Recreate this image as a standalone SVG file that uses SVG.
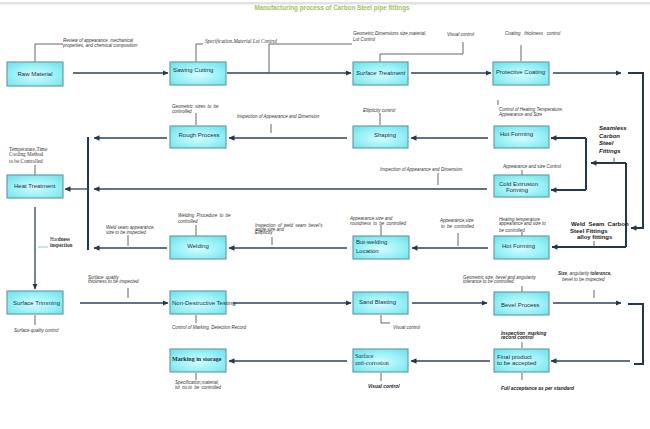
<svg xmlns="http://www.w3.org/2000/svg" width="650" height="429" viewBox="0 0 650 429">
<defs>
<radialGradient id="bf" cx="50%" cy="55%" r="65%">
<stop offset="0" stop-color="#d4fcfe"/>
<stop offset="0.6" stop-color="#98f1f6"/>
<stop offset="1" stop-color="#74e3ec"/>
</radialGradient>
<marker id="ah" markerWidth="6" markerHeight="6" refX="5.5" refY="3" orient="auto" markerUnits="userSpaceOnUse">
<path d="M0,0.3 L6,3 L0,5.7 z" fill="#22384e"/>
</marker>
<style>
.box{fill:url(#bf);stroke:#6b9ea7;stroke-width:1.2}
.nt{font-family:"Liberation Sans",Arial,sans-serif;font-size:6px;fill:#1c2f45}
.ns{font-family:"Liberation Serif","Times New Roman",serif;font-size:6px;fill:#1c2f45}
.lb{font-family:"Liberation Sans",Arial,sans-serif;font-size:4.5px;font-style:italic;fill:#333}
.lbs{font-family:"Liberation Serif","Times New Roman",serif;font-size:5.2px;fill:#333}
.bi{font-family:"Liberation Sans",Arial,sans-serif;font-size:4.8px;font-style:italic;font-weight:bold;fill:#222}
.big{font-family:"Liberation Sans",Arial,sans-serif;font-size:6px;font-weight:bold;fill:#222}
.cn{fill:none;stroke:#2e4358;stroke-width:1.3}
.ck{fill:none;stroke:#22384e;stroke-width:2}
.tk{fill:none;stroke:#555;stroke-width:0.9}
.ar{marker-end:url(#ah)}
</style>
</defs>
<rect x="0" y="0" width="650" height="429" fill="#fff"/>
<rect x="0" y="2" width="650" height="2.5" fill="#e2e2e2"/>
<text x="332" y="9.5" text-anchor="middle" font-family="Liberation Sans,Arial,sans-serif" font-size="6.3" font-weight="bold" fill="#9dc35e">Manufacturing process of Carbon Steel pipe fittings</text>

<g id="connectors">
<path class="cn ar" d="M73,73 H168"/>
<path class="cn ar" d="M227,73 H351"/>
<path class="cn ar" d="M411,73 H491"/>
<path class="cn ar" d="M553,73 H621"/>
<path class="ck ar" d="M628,73 H643 V228 H631"/>
<path class="ck" d="M626,163 V247"/>
<path class="ck ar" d="M626,163 H591"/>
<path class="ck ar" d="M626,247 H552"/>
<path class="ck" d="M586,138 V190"/>
<path class="ck ar" d="M586,138 H551"/>
<path class="ck ar" d="M586,190 H551"/>
<path class="cn ar" d="M488,138 H411"/>
<path class="cn ar" d="M347,138 H229"/>
<path class="cn ar" d="M167,138 H94"/>
<path class="ck" d="M88,137 V250"/>
<path class="cn ar" d="M88,189 H65"/>
<path class="cn ar" d="M487,189 H94"/>
<path class="cn ar" d="M488,248 H412"/>
<path class="cn ar" d="M347,248 H229"/>
<path class="cn ar" d="M167,248 H94"/>
<path class="cn ar" d="M35,207 V289"/>
<path class="cn ar" d="M80,303 H168"/>
<path class="cn ar" d="M233,303 H351"/>
<path class="cn ar" d="M412,303 H487"/>
<path class="cn ar" d="M553,303 H621"/>
<path class="ck" d="M628,304 H643 V364 H634"/>
<path class="cn ar" d="M630,361 H551"/>
<path class="cn ar" d="M490,361 H411"/>
<path class="cn ar" d="M347,361 H229"/>

<path class="tk" d="M35,62 V44 H63"/>
<path class="tk" d="M196,62 V44 H203"/>
<path class="tk" d="M269,73 V44 H352"/>
<path class="tk" d="M380,62 V54 H463 V42"/>
<path class="tk" d="M521,45 V61"/>
<path class="tk" d="M196,113 V125"/>
<path class="tk" d="M271,124 V133"/>
<path class="tk" d="M380,113 V125"/>
<path class="tk" d="M498,100 V105"/>
<path class="tk" d="M614,158 V164"/>
<path class="tk" d="M522,170 V175"/>
<path class="tk" d="M438,173 V185"/>
<path class="tk" d="M35,165 V175"/>
<path class="tk" d="M196,225 V236"/>
<path class="tk" d="M128,235 V246"/>
<path class="tk" d="M272,237 V245"/>
<path class="tk" d="M381,225 V236"/>
<path class="tk" d="M458,233 V246"/>
<path class="tk" d="M522,232 V236"/>
<path class="tk" d="M594,241 V247"/>
<path d="M38,247 H48" stroke="#9cc4cc" stroke-width="1" fill="none"/>
<path class="tk" d="M128,288 V298"/>
<path class="tk" d="M35,315 V325"/>
<path class="tk" d="M196,315 V323"/>
<path class="tk" d="M381,315 V323 H390"/>
<path class="tk" d="M522,286 V292"/>
<path class="tk" d="M594,290 V298"/>
<path class="tk" d="M196,373 V380"/>
<path class="tk" d="M381,373 V381"/>
<path class="tk" d="M522,342 V348"/>
<path class="tk" d="M522,373 V380"/>
</g>

<g id="raw-material"><rect class="box" x="7" y="62" width="56" height="24"/><text class="nt" x="35" y="76" text-anchor="middle">Raw Material</text></g>
<g id="sawing-cutting"><rect class="box" x="170" y="62" width="56" height="23"/><text class="nt" x="173" y="72">Sawing Cutting</text></g>
<g id="surface-treatment"><rect class="box" x="353" y="62" width="55" height="23"/><text class="nt" x="356" y="75" font-style="italic">Surface Treatment</text></g>
<g id="protective-coating"><rect class="box" x="493" y="62" width="56" height="23"/><text class="nt" x="496" y="74">Protective Coating</text></g>

<g id="rough-process"><rect class="box" x="170" y="126" width="56" height="22"/><text class="nt" x="199" y="137" text-anchor="middle">Rough Process</text></g>
<g id="shaping"><rect class="box" x="353" y="126" width="55" height="22"/><text class="nt" x="374" y="137">Shaping</text></g>
<g id="hot-forming-1"><rect class="box" x="494" y="126" width="55" height="22"/><text class="nt" x="500" y="136">Hot Forming</text></g>
<g id="cold-extrusion"><rect class="box" x="494" y="175" width="55" height="22"/><text class="nt" x="499" y="186" font-size="5.5">Cold  Extrusion</text><text class="nt" x="506" y="191.5" font-size="5.5">Forming</text></g>
<g id="heat-treatment"><rect class="box" x="7" y="175" width="56" height="23"/><text class="nt" x="14" y="188">Heat Treatment</text></g>

<g id="welding"><rect class="box" x="170" y="236" width="56" height="23"/><text class="nt" x="198" y="248" text-anchor="middle">Welding</text></g>
<g id="but-welding"><rect class="box" x="353" y="236" width="56" height="23"/><text class="nt" x="356" y="243.5">But-welding</text><text class="nt" x="356" y="252.5">Location</text></g>
<g id="hot-forming-2"><rect class="box" x="494" y="236" width="55" height="23"/><text class="nt" x="502" y="248">Hot Forming</text></g>

<g id="surface-trimming"><rect class="box" x="7" y="291" width="56" height="23"/><text class="nt" x="13" y="305">Surface Trimming</text></g>
<g id="ndt"><rect class="box" x="170" y="291" width="56" height="23"/><text class="nt" x="172" y="305" font-size="4.4">Non-Destructive Testing</text></g>
<g id="sand-blasting"><rect class="box" x="353" y="292" width="55" height="22"/><text class="nt" x="359" y="304">Sand Blasting</text></g>
<g id="bevel-process"><rect class="box" x="494" y="292" width="55" height="23"/><text class="nt" x="501" y="307">Bevel Process</text></g>

<g id="marking-storage"><rect class="box" x="170" y="349" width="56" height="23"/><text class="ns" x="172" y="361" font-weight="bold" font-size="5.8">Marking in storage</text></g>
<g id="surface-anti-corrosion"><rect class="box" x="353" y="349" width="55" height="23"/><text class="ns" x="355" y="358">Surface</text><text class="ns" x="355" y="364.5">anti-corrosion</text></g>
<g id="final-product"><rect class="box" x="494" y="349" width="55" height="23"/><text class="nt" x="497" y="359" font-size="5.8">Final product</text><text class="nt" x="497" y="365" font-size="5.8">to be accepted</text></g>

<g id="labels">
<text class="lb" x="63" y="42">Review of appearance, mechanical</text>
<text class="lb" x="63" y="46.5">properties, and chemical composition</text>
<text class="lbs" x="205" y="43" font-style="italic" font-size="4.6">Specification.Material Lot Control</text>
<text class="lb" x="353" y="35">Geometric Dimensions size,material,</text>
<text class="lb" x="353" y="40.5">Lot Control</text>
<text class="lb" x="447" y="36">Visual control</text>
<text class="lb" x="505" y="35" word-spacing="2.5">Coating thickness control</text>
<text class="lb" x="172" y="108" word-spacing="1">Geometric sizes to be</text>
<text class="lb" x="172" y="113">controlled</text>
<text class="lb" x="237" y="118" font-size="4.3">Inspection of Appearance and Dimension</text>
<text class="lb" x="363" y="112">Ellipticity control</text>
<text class="lb" x="499" y="110.5">Control of Heating Temperature,</text>
<text class="lb" x="499" y="115.5">Appearance and Size</text>
<text class="lb" x="503" y="168">Appearance and size Control</text>
<text class="lb" x="380" y="171" font-size="4.3">Inspection of Appearance and Dimension</text>
<text class="lbs" x="9" y="151">Temperature,Time</text>
<text class="lbs" x="9" y="156">Cooling Method</text>
<text class="lbs" x="9" y="163">to be Controlled</text>
<text class="lb" x="178" y="216.5" word-spacing="1">Welding Procedure to be</text>
<text class="lb" x="178" y="223">controlled</text>
<text class="lb" x="106" y="229">Weld seam appearance,</text>
<text class="lb" x="106" y="234">size to be inspected</text>
<text class="lb" x="255" y="227" font-size="4" word-spacing="1">Inspection of weld seam bevel's</text>
<text class="lb" x="255" y="230.5" font-size="4">angle,size and</text>
<text class="lb" x="255" y="234" font-size="4">Ellipticity</text>
<text class="lb" x="350" y="219.5">Appearance,size and</text>
<text class="lb" x="350" y="224.5" word-spacing="1">roundness to be controlled</text>
<text class="lb" x="440" y="221.5">Appearance,size</text>
<text class="lb" x="441" y="227.5" word-spacing="1">to be controlled</text>
<text class="lb" x="499" y="221" font-size="4.2">Heating temperature</text>
<text class="lb" x="499" y="225" font-size="4.2">appearance and size to</text>
<text class="lb" x="499" y="232" font-size="4.2">be controlled</text>
<text class="lbs" x="50" y="241">Har<tspan font-weight="bold">dness</tspan></text>
<text class="lbs" x="50" y="246.5" font-weight="bold">inspection</text>
<text class="lb" x="88" y="279" word-spacing="1">Surface quality</text>
<text class="lb" x="88" y="283">thickness to be inspected</text>
<text class="lb" x="14" y="332">Surface quality control</text>
<text class="lb" x="172" y="329">Control of Marking, Detection Record</text>
<text class="lb" x="393" y="329">Visual control</text>
<text class="lb" x="463" y="279">Geometric size, bevel and angularity</text>
<text class="lb" x="463" y="283">tolerance to be controlled</text>
<text class="lb" x="558" y="275"><tspan font-weight="bold">Size</tspan>, angularity   <tspan font-weight="bold">tolerance,</tspan></text>
<text class="lb" x="562" y="281">bevel to be inspected</text>
<text class="lb" x="175" y="384">Specification,material,</text>
<text class="lb" x="175" y="388.5" word-spacing="1">lot no.to be controlled</text>
<text class="bi" x="368" y="388">Visual control</text>
<text class="bi" x="501" y="334.5" word-spacing="1.5">Inspection marking</text>
<text class="bi" x="501" y="339">record control</text>
<text class="bi" x="501" y="390">Full acceptance as per standard</text>
<text class="big" x="599" y="130" font-style="italic">Seamless</text>
<text class="big" x="599" y="137.5" font-style="italic">Carbon</text>
<text class="big" x="599" y="145" font-style="italic">Steel</text>
<text class="big" x="599" y="152.5" font-style="italic">Fittings</text>
<text class="big" x="571" y="226" word-spacing="1.5">Weld Seam Carbon</text>
<text class="big" x="570" y="232.5">Steel Fittings</text>
<text class="big" x="577" y="239">alloy fittings</text>
</g>
</svg>
